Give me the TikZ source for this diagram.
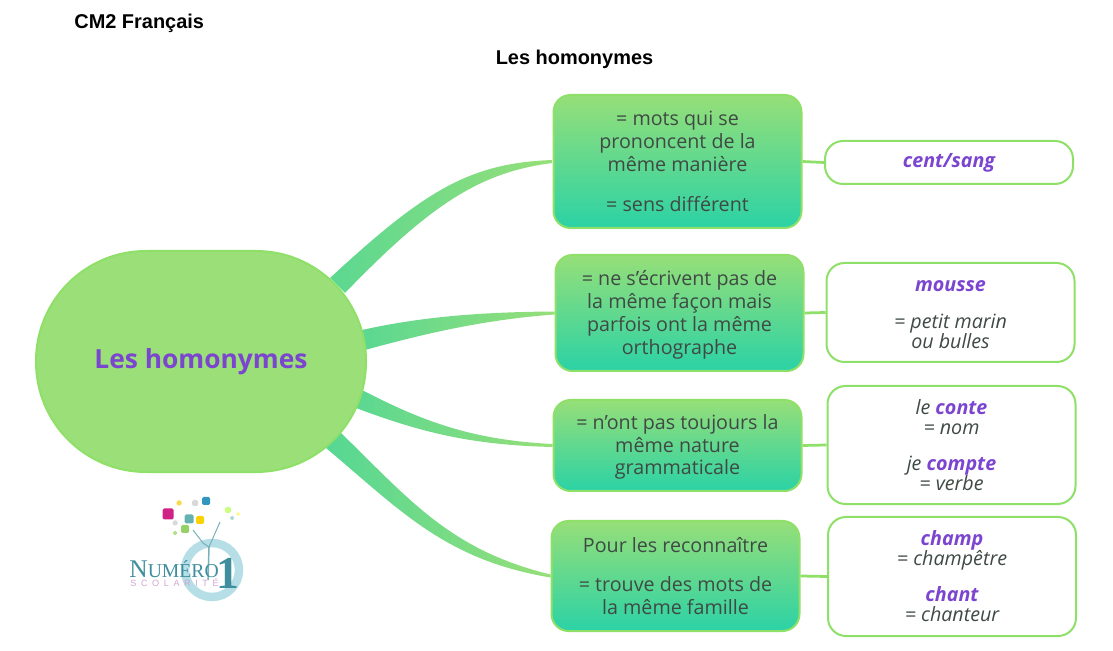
\documentclass[tikz,border=0pt]{standalone}
\usepackage{fontspec}
\setmainfont{Open Sans}
\newfontfamily\titlefont{Liberation Sans}
\newfontfamily\logofont{Liberation Serif}
\newfontfamily\logosans[LetterSpace=50]{Liberation Sans}
\usetikzlibrary{backgrounds}
\definecolor{boxtop}{HTML}{96DF78}
\definecolor{boxbot}{HTML}{2BD2A6}
\definecolor{edgegreen}{HTML}{8FE068}
\definecolor{hubfill}{HTML}{9ADF78}
\definecolor{wordpurple}{HTML}{7B45D0}
\definecolor{textgrey}{HTML}{3F4A44}
\definecolor{logoteal}{HTML}{3E8E9E}
\definecolor{logoring}{HTML}{B5DEE6}
\newcommand{\word}[1]{\textbf{\textcolor{wordpurple}{#1}}}
\newcommand{\lift}[1]{\rule{0pt}{#1}}
\tikzset{
	box/.style={draw=edgegreen,line width=0.4mm,rounded corners=3.4mm,top color=boxtop,bottom color=boxbot,
		minimum width=49.6mm,text=textgrey,font=\fontsize{11.2}{13}\selectfont,align=center,inner sep=0pt},
	leaf/.style={draw=edgegreen,line width=0.4mm,rounded corners=3.6mm,fill=white,minimum width=49.6mm,
		text=textgrey,font=\fontsize{11.2}{11.4}\selectfont\itshape,align=center,inner sep=0pt},
	branch/.style={left color=#1,right color=boxtop},
	twig/.style={edgegreen,line width=0.55mm},
	scrap/.style={rounded corners=0.3mm,minimum size=#1,inner sep=0pt}
}
\begin{document}
\begin{tikzpicture}[x=0.2mm,y=-0.2mm]
		\useasboundingbox (0,0) rectangle (1113,651);
		% titles
		\node[anchor=west,inner sep=0pt,font=\titlefont\fontsize{11.35}{13}\selectfont\bfseries] (cm) at (74,23) {CM2 Français};
		\node[inner sep=0pt,font=\titlefont\fontsize{11.35}{13}\selectfont\bfseries] (title) at (574.5,59) {Les homonymes};
		% hub
		\node[draw=edgegreen,line width=0.4mm,fill=hubfill,rounded corners=22mm,minimum width=66mm,minimum height=44.2mm,
			text=wordpurple,font=\fontsize{15}{18}\selectfont\bfseries] (hub) at (201,361.5) {Les homonymes};
		% boxes
		\node[box,minimum height=26.6mm] (b1) at (677.5,161.5) {= mots qui se\\prononcent de la\\même manière\\[3.6mm]= sens différent};
		\node[box,minimum height=23.2mm] (b2) at (679.5,313) {\lift{3.8mm}= ne s’écrivent pas de\\la même façon mais\\parfois ont la même\\orthographe};
		\node[box,minimum height=18.2mm] (b3) at (677.5,445.5) {\lift{3.6mm}= n’ont pas toujours la\\même nature\\grammaticale};
		\node[box,minimum height=22mm] (b4) at (675.5,576) {Pour les reconnaître\\[3.2mm]= trouve des mots de\\la même famille};
		% leaves
		\node[leaf,minimum height=8.6mm] (l1) at (949,162.5) {\lift{3mm}\word{cent/sang}};
		\node[leaf,minimum height=19.8mm] (l2) at (950.5,312.5) {\lift{3mm}\word{mousse}\\[3.4mm]= petit marin\\ou bulles};
		\node[leaf,minimum height=23.6mm] (l3) at (951.5,445) {le \word{conte}\\= nom\\[3.2mm]je \word{compte}\\= verbe};
		\node[leaf,minimum height=23.8mm] (l4) at (952,576.5) {\word{champ}\\= champêtre\\[3.2mm]\word{chant}\\= chanteur};
		% twigs
		\foreach \i in {1,...,4}
		\draw[twig] (b\i.east) -- (l\i.west);
		% branches
		\begin{pgfonlayer}{background}
		\coordinate (h1a) at (330,278);
		\coordinate (h1b) at (345,293);
		\coordinate (h2a) at (362,330);
		\coordinate (h2b) at (365,350);
		\coordinate (h3a) at (362,390);
		\coordinate (h3b) at (356,408);
		\coordinate (h4a) at (340,432);
		\coordinate (h4b) at (326,448);
		\shade[branch=boxbot!55!boxtop] (h1a) .. controls (425,190) and (470,163) .. ([yshift=0.3mm]b1.west)
			-- ([yshift=-0.3mm]b1.west) .. controls (480,172) and (430,205) .. (h1b) -- cycle;
		\shade[branch=boxbot!55!boxtop] (h2a) .. controls (420,317) and (480,312) .. ([yshift=0.3mm]b2.west)
			-- ([yshift=-0.3mm]b2.west) .. controls (480,320) and (420,335) .. (h2b) -- cycle;
		\shade[branch=boxbot!55!boxtop] (h3a) .. controls (420,420) and (470,440) .. ([yshift=0.3mm]b3.west)
			-- ([yshift=-0.3mm]b3.west) .. controls (470,445) and (420,432) .. (h3b) -- cycle;
		\shade[branch=boxbot!60!boxtop] (h4a) .. controls (410,500) and (450,550) .. ([yshift=0.3mm]b4.west)
			-- ([yshift=-0.3mm]b4.west) .. controls (445,560) and (400,510) .. (h4b) -- cycle;
		\end{pgfonlayer}
		% logo
		\node[circle,draw=logoring,line width=1.7mm,minimum size=10.8mm,inner sep=0pt] (ring) at (212,570) {};
		\draw[logoteal!70,line width=0.2mm] (193,530) -- (203,543) -- (209,547) -- (220,522);
		\draw[logoteal!70,line width=0.3mm] (209,547) -- (208,580);
		\node[anchor=base west,inner sep=0pt,text=logoteal,font=\logofont\fontsize{14.5}{15}\selectfont] (nu) at (129,577) {N\fontsize{11.2}{12}\selectfont UMÉRO};
		\node[anchor=base,inner sep=0pt,text=logoteal,font=\logofont\fontsize{26}{27}\selectfont\bfseries] (one) at (228,588) {1};
		\node[anchor=base west,inner sep=0pt,text=violet!35,font=\logosans\fontsize{5.2}{6}\selectfont] (sc) at (130,587) {SCOLARITÉ};
		\foreach \px/\py/\sz/\col in {168/514/2.2mm/magenta!70!violet, 189/519/1.8mm/teal!60, 200/520/1.6mm/yellow!70!orange,
			185/529/1.6mm/green!40!olive!60, 206/501/1.6mm/cyan!50!teal, 195/503/1.2mm/gray!30, 179/503/1.0mm/yellow!60!orange!70,
			228/510/1.2mm/green!40!yellow!50, 238/514/0.7mm/yellow!50, 232/518/0.8mm/teal!30, 175/523/1.0mm/gray!30, 175/533/0.8mm/yellow!40!green!50}
		\node[scrap=\sz,fill=\col] at (\px,\py) {};
\end{tikzpicture}
\end{document}
